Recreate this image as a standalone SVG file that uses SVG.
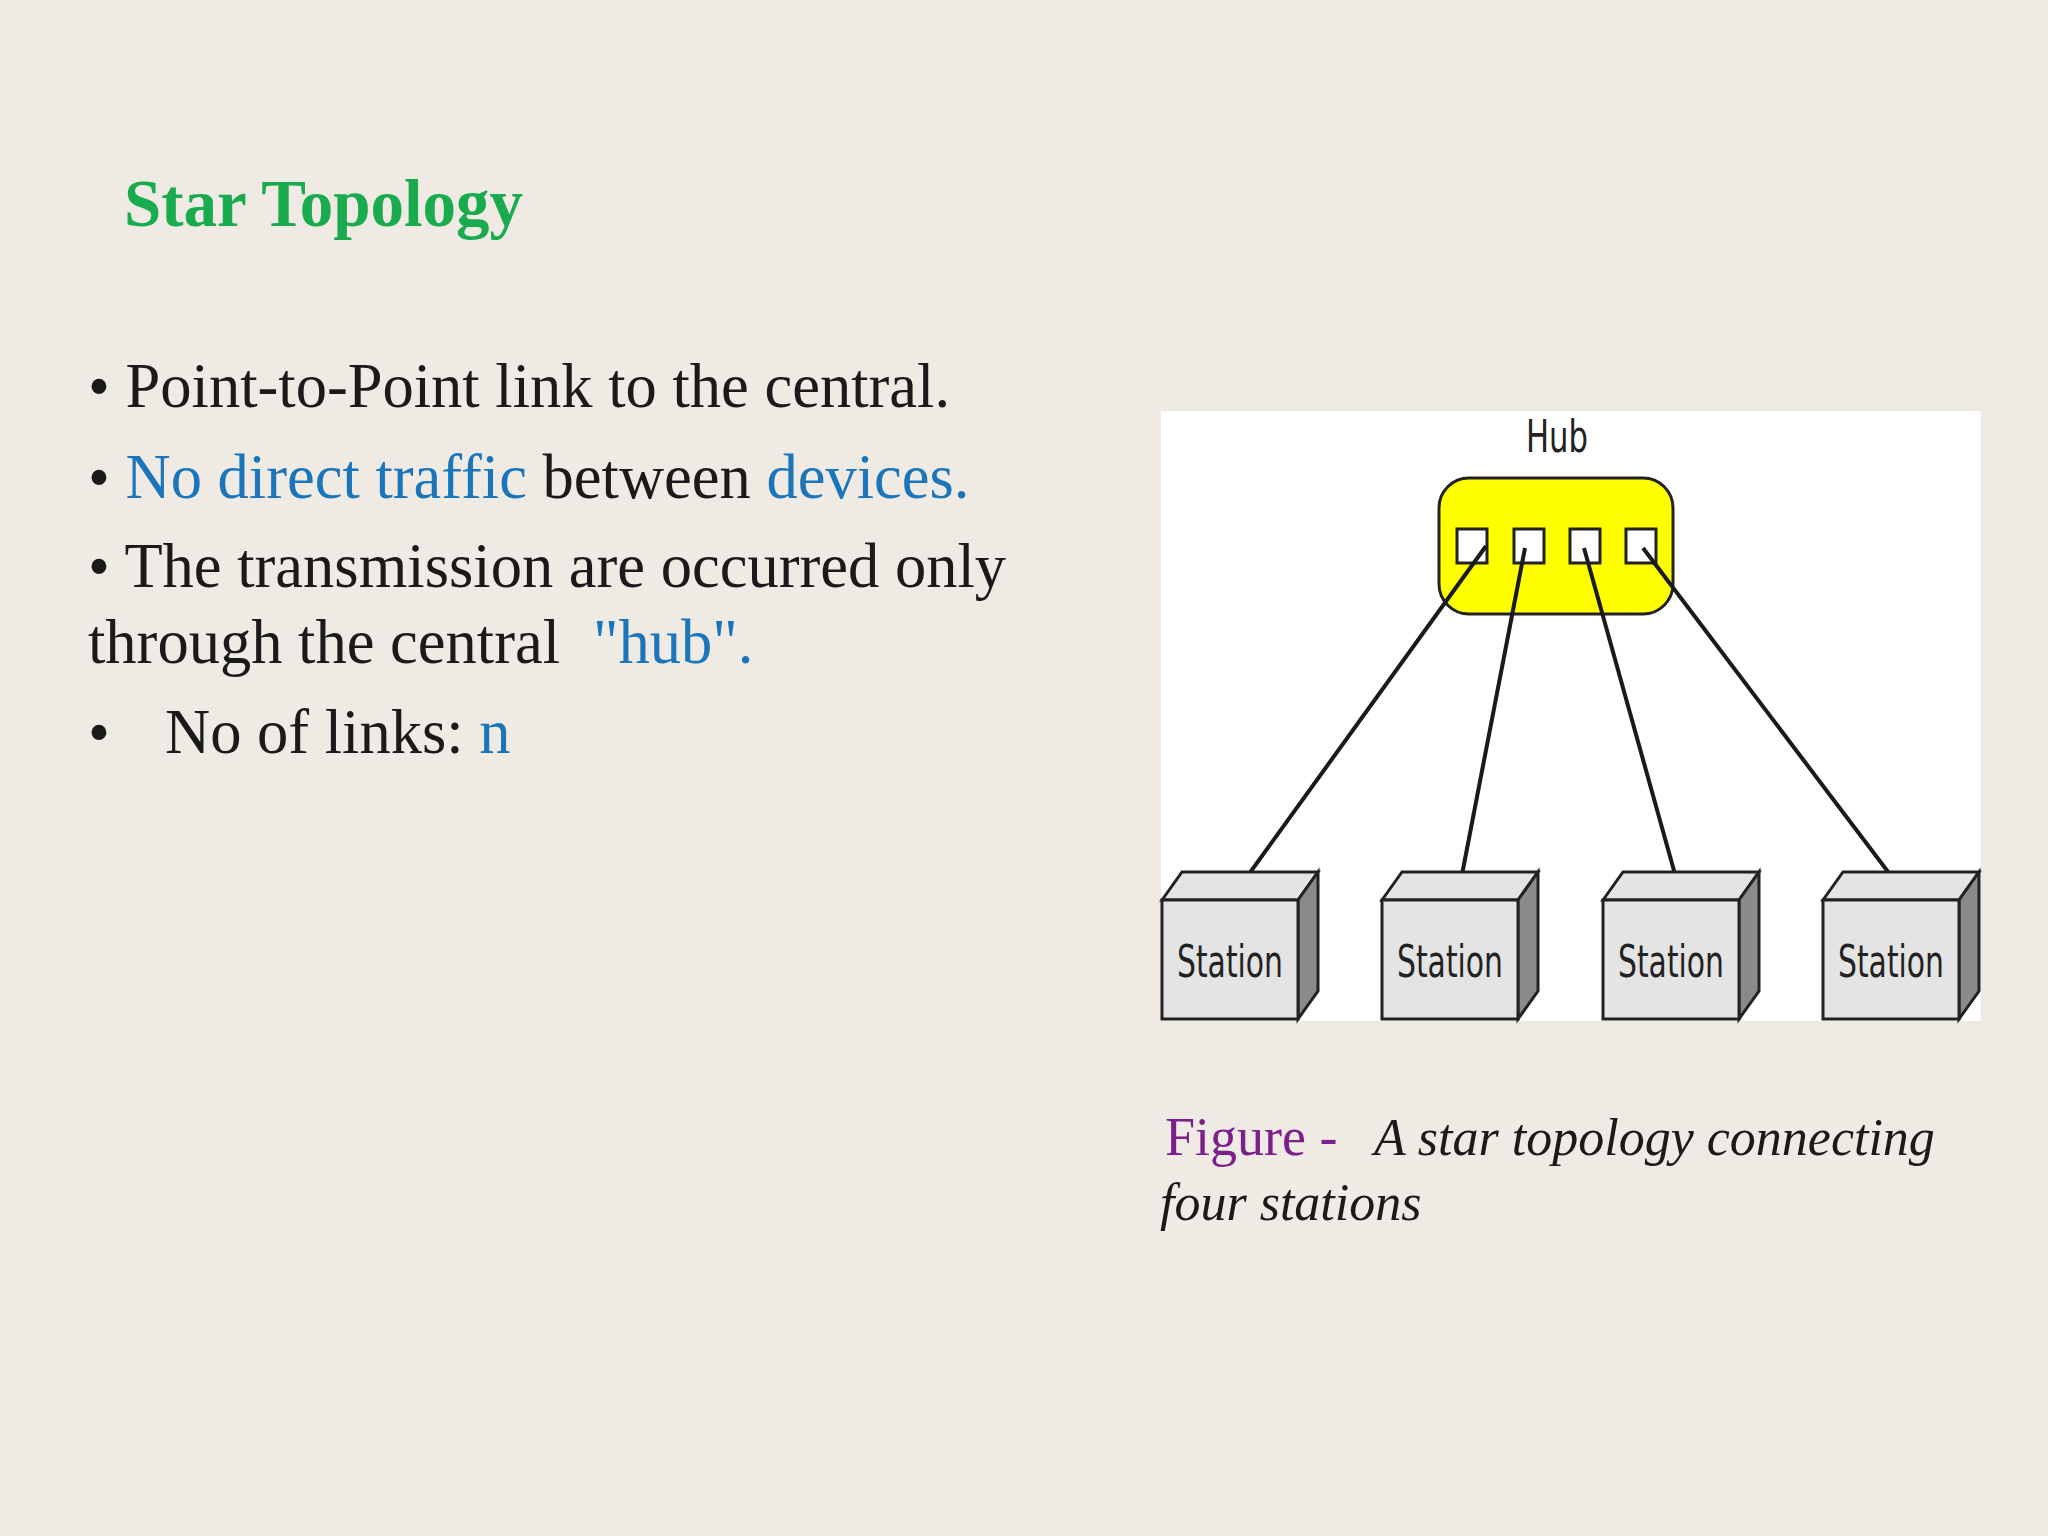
<svg xmlns="http://www.w3.org/2000/svg" width="2048" height="1536" viewBox="0 0 2048 1536">
<style>
.t{font-family:"Liberation Serif",serif;font-size:62.5px;fill:#1a1a1a}
.b{fill:#1a75bb}
.st{fill:#e4e4e4;stroke:#222;stroke-width:3}
.sd{fill:#8a8a8a;stroke:#222;stroke-width:3}
.lbl{font-family:"DejaVu Sans",sans-serif;font-size:44px;fill:#222;text-anchor:middle}
.ln{stroke:#1a1a1a;stroke-width:4;fill:none}
.pt{fill:#fff;stroke:#222;stroke-width:3}
</style>
<rect width="2048" height="1536" fill="#efebe4"/>
<text x="124" y="226" font-family="Liberation Serif,serif" font-weight="bold" font-size="67" fill="#1aab4f">Star Topology</text>
<text class="t" x="88" y="407">• Point-to-Point link to the central.</text>
<text class="t" x="88" y="498">•  <tspan class="b">No direct traffic</tspan> between <tspan class="b">devices.</tspan></text>
<text class="t" x="88" y="587">• The transmission are occurred only</text>
<text class="t" x="88" y="663">through the central  <tspan class="b" x="593">"hub".</tspan></text>
<text class="t" x="88" y="753">•<tspan x="165">No of links: </tspan><tspan class="b">n</tspan></text>
<rect x="1161" y="411" width="820" height="610" fill="#fff"/>
<g id="hub">
<text class="lbl" x="1557" y="452" textLength="62" lengthAdjust="spacingAndGlyphs">Hub</text>
<rect x="1439" y="478" width="234" height="136" rx="30" fill="#ffff00" stroke="#222" stroke-width="3"/>
<rect class="pt" x="1457" y="529" width="30" height="34"/>
<rect class="pt" x="1514" y="529" width="30" height="34"/>
<rect class="pt" x="1570" y="529" width="30" height="34"/>
<rect class="pt" x="1626" y="529" width="30" height="34"/>
</g>
<g id="connectors">
<line class="ln" x1="1486" y1="546" x2="1241" y2="885"/>
<line class="ln" x1="1525" y1="548" x2="1460" y2="885"/>
<line class="ln" x1="1584" y1="548" x2="1678" y2="885"/>
<line class="ln" x1="1643" y1="548" x2="1898" y2="885"/>
</g>
<defs>
<g id="stn">
<polygon class="st" points="0,28 20,0 156,0 136,28"/>
<polygon class="sd" points="136,28 156,0 156,119 136,147"/>
<rect class="st" x="0" y="28" width="136" height="119"/>
<text class="lbl" x="68" y="105" textLength="106" lengthAdjust="spacingAndGlyphs">Station</text>
</g>
</defs>
<g id="station1"><use href="#stn" x="1162" y="872"/></g>
<g id="station2"><use href="#stn" x="1382" y="872"/></g>
<g id="station3"><use href="#stn" x="1603" y="872"/></g>
<g id="station4"><use href="#stn" x="1823" y="872"/></g>
<text x="1165" y="1155" font-family="Liberation Serif,serif" font-size="54" fill="#7b1f8a">Figure - <tspan x="1374" font-style="italic" fill="#1a1a1a" font-size="52">A star topology connecting</tspan></text>
<text x="1160" y="1220" font-family="Liberation Serif,serif" font-style="italic" font-size="52" fill="#1a1a1a">four stations</text>
</svg>
